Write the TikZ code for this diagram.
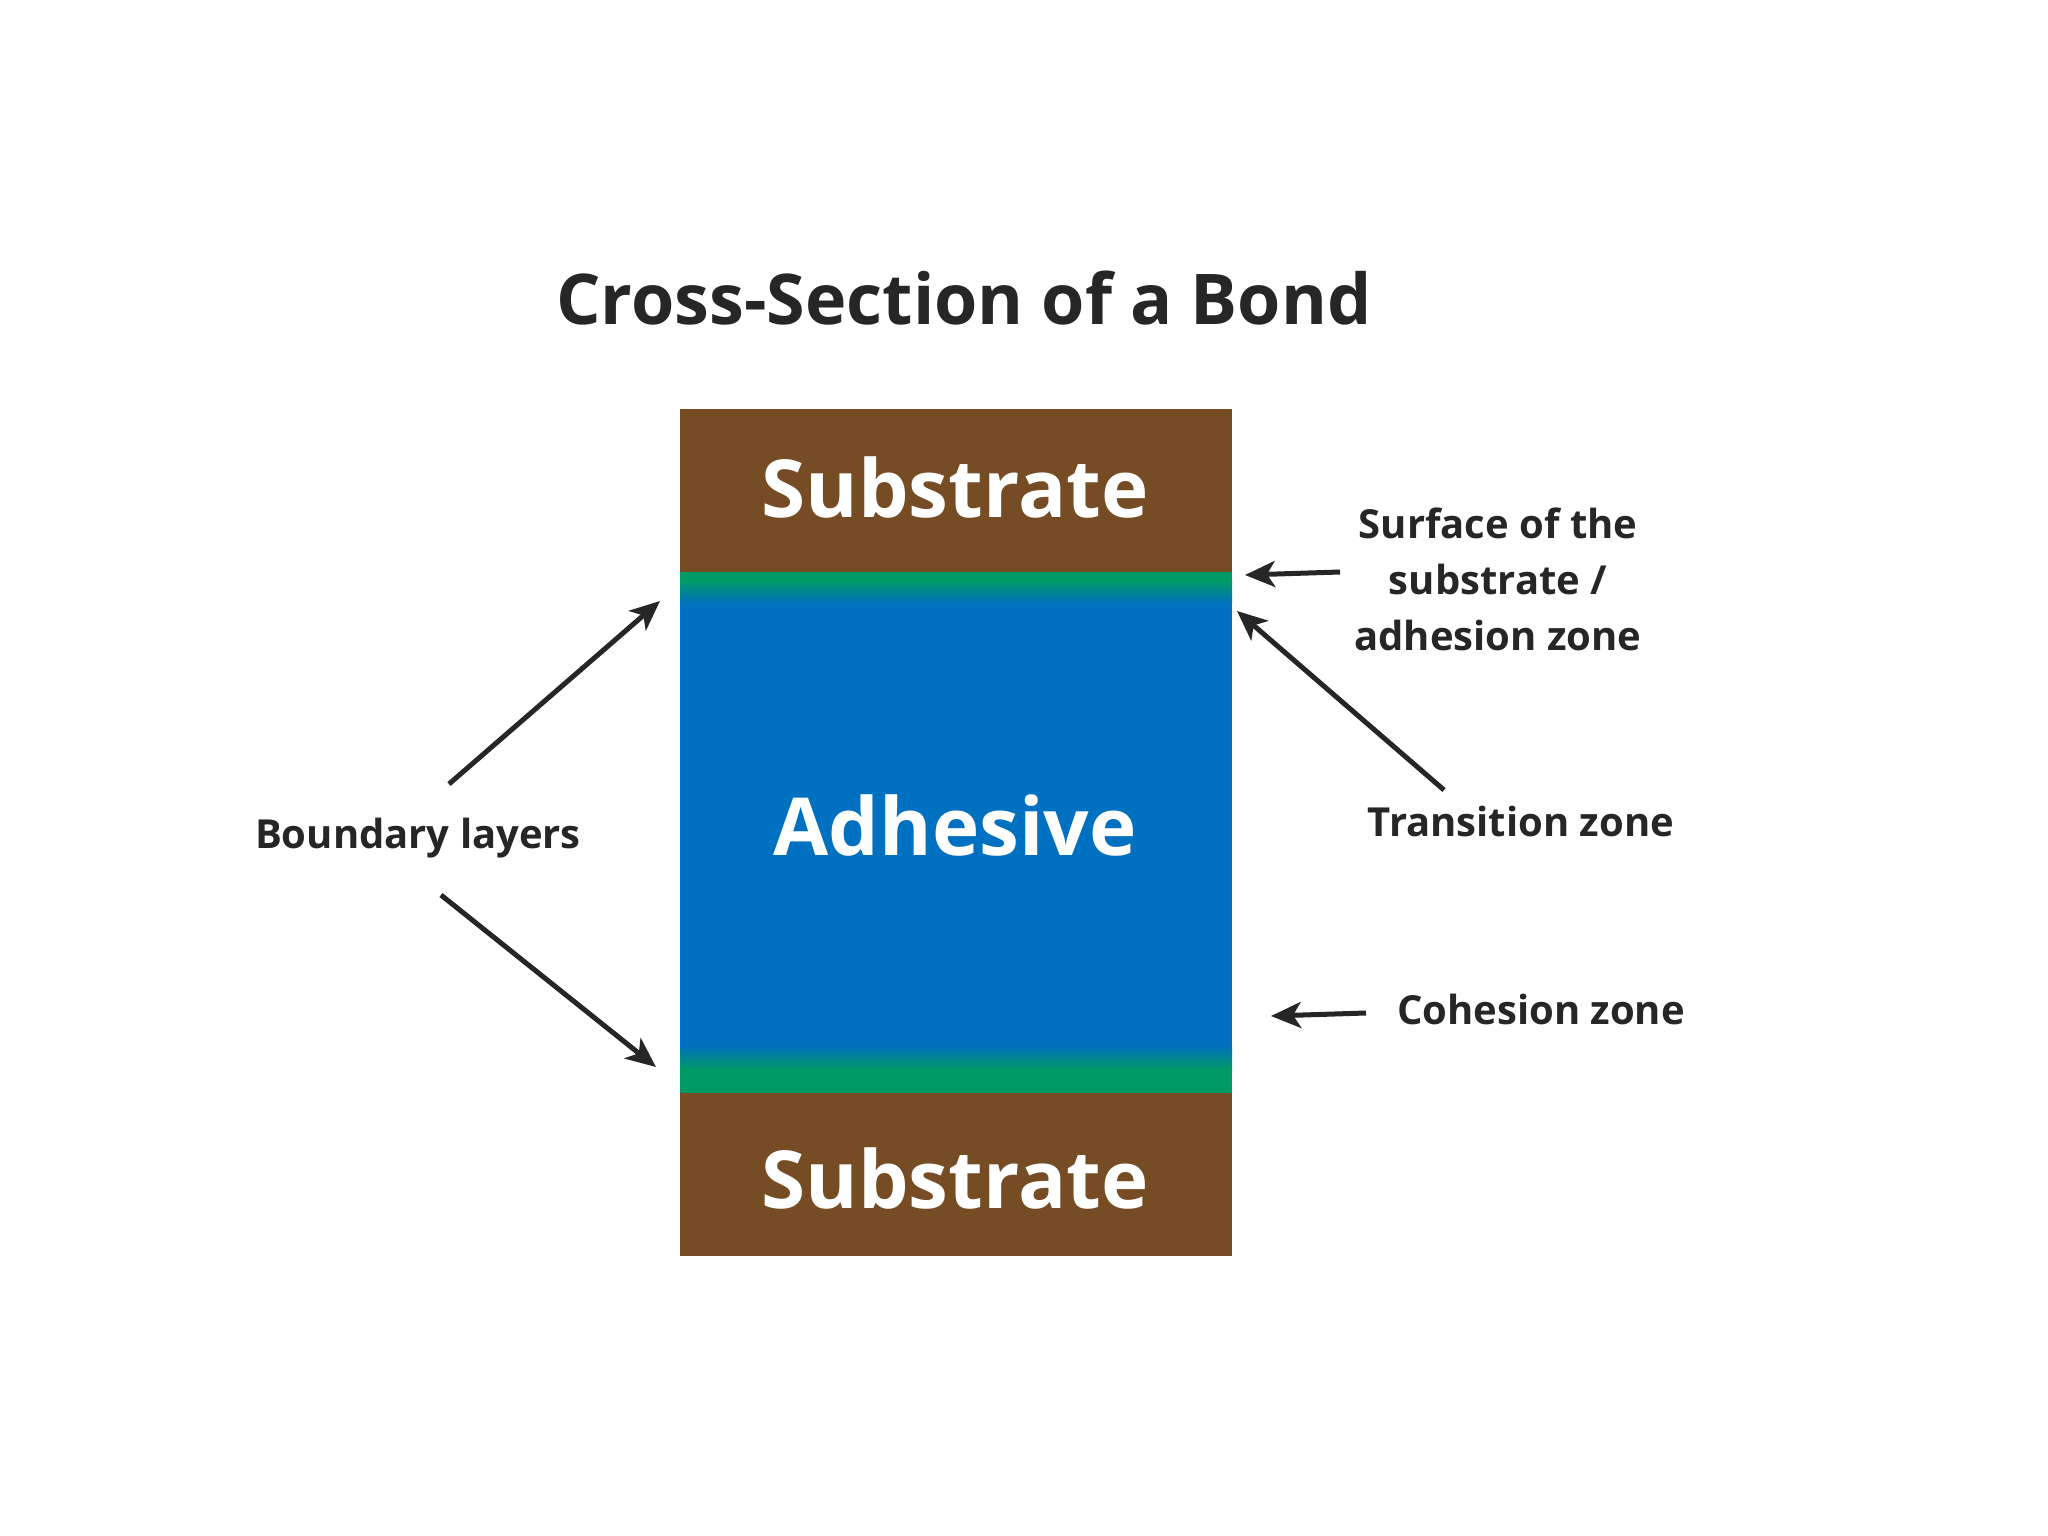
\documentclass[tikz,border=0pt]{standalone}
\usepackage{fontspec}
\setmainfont{Open Sans}
\usetikzlibrary{arrows.meta}
\definecolor{brn}{HTML}{754C24}
\definecolor{blu}{HTML}{0070C0}
\definecolor{grn}{HTML}{009A66}
\definecolor{txt}{HTML}{262626}
\begin{document}
\begin{tikzpicture}[x=1pt,y=-1pt,
  arr/.style={line width=5pt,txt,-{Stealth[length=30pt,width=26pt,inset=8pt]}},
  lbl/.style={font=\fontsize{40}{56}\selectfont\bfseries,text=txt,align=center,inner sep=0},
  big/.style={font=\fontsize{80}{90}\selectfont\bfseries,text=white,inner sep=0}]
\useasboundingbox (0,0) rectangle (2048,1536);
\fill[white] (0,0) rectangle (2048,1536);
\fill[brn] (680,409) rectangle (1232,572);
\fill[blu] (680,572) rectangle (1232,1093);
\shade[top color=grn,bottom color=blu] (680,580) rectangle (1232,604);
\fill[grn] (680,572) rectangle (1232,582);
\shade[top color=blu,bottom color=grn] (680,1045) rectangle (1232,1070);
\fill[grn] (680,1068) rectangle (1232,1093);
\fill[brn] (680,1093) rectangle (1232,1256);
\node[font=\fontsize{70}{80}\selectfont\bfseries,text=txt] (title) at (964,298) {Cross-Section of a Bond};
\node[big] (s1) at (955,487) {Substrate};
\node[big] (ad) at (955,825) {Adhesive};
\node[big] (s2) at (955,1178) {Substrate};
\node[lbl] (bl) at (418,838) {Boundary layers};
\node[lbl] (sf) at (1498,579) {Surface of the\\substrate /\\adhesion zone};
\node[lbl] (tz) at (1521,821) {Transition zone};
\node[lbl] (cz) at (1541,1009) {Cohesion zone};
\coordinate (b1s) at (449,784); \coordinate (b1e) at (660,601);
\coordinate (b2s) at (441,895); \coordinate (b2e) at (656,1067);
\coordinate (sfs) at (1340,572); \coordinate (sfe) at (1245,575);
\coordinate (tzs) at (1444,790); \coordinate (tze) at (1237,611);
\coordinate (czs) at (1366,1013); \coordinate (cze) at (1271,1016);
\draw[arr] (b1s) -- (b1e);
\draw[arr] (b2s) -- (b2e);
\draw[arr] (sfs) -- (sfe);
\draw[arr] (tzs) -- (tze);
\draw[arr] (czs) -- (cze);
\end{tikzpicture}
\end{document}
